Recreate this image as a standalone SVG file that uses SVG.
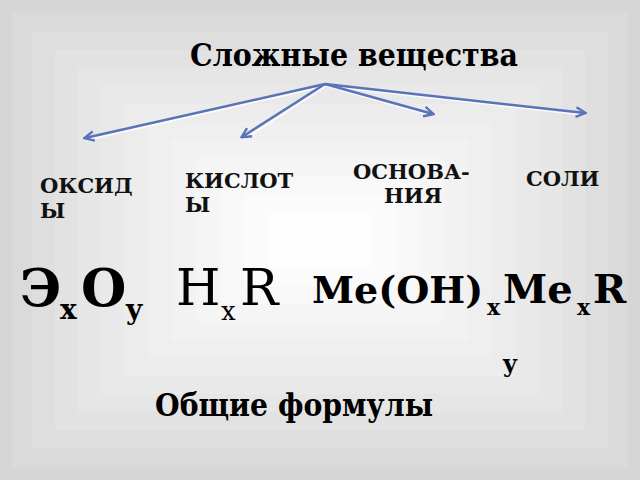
<svg xmlns="http://www.w3.org/2000/svg" width="640" height="480" viewBox="0 0 640 480">
<defs>
<style>
.title{font-family:"DejaVu Serif",serif;font-weight:bold;font-size:31px;fill:#000}
.lab{font-family:"DejaVu Serif",serif;font-weight:bold;font-size:21px;fill:#111}
.fb{font-family:"DejaVu Serif",serif;font-weight:bold;fill:#000}
.fn{font-family:"DejaVu Serif",serif;font-weight:normal;fill:#000}
.conn{stroke:#5a72b8;stroke-width:2.5;fill:none;marker-end:url(#ah)}
.hl{stroke:#ffffff;stroke-width:2;fill:none;opacity:0.8}
</style>
<marker id="ah" viewBox="0 0 10 10" refX="8.5" refY="5" markerWidth="12" markerHeight="12" markerUnits="userSpaceOnUse" orient="auto">
<path d="M1,1 L9,5 L1,9" fill="none" stroke="#5a72b8" stroke-width="2"/>
</marker>
</defs>
<g id="background">
<rect x="0" y="0" width="640" height="480" fill="#d6d6d6"/>
<rect x="12" y="12" width="616" height="456" fill="#dadada"/>
<rect x="32" y="32" width="576" height="416" fill="#dedede"/>
<rect x="55" y="50" width="530" height="380" fill="#e2e2e2"/>
<rect x="78" y="68" width="484" height="344" fill="#e6e6e6"/>
<rect x="100" y="86" width="440" height="308" fill="#e9e9e9"/>
<rect x="124" y="104" width="392" height="272" fill="#ececec"/>
<rect x="148" y="122" width="344" height="236" fill="#efefef"/>
<rect x="172" y="140" width="296" height="200" fill="#f2f2f2"/>
<rect x="196" y="158" width="248" height="164" fill="#f5f5f5"/>
<rect x="220" y="176" width="200" height="128" fill="#f8f8f8"/>
<rect x="244" y="194" width="152" height="92" fill="#fbfbfb"/>
<rect x="268" y="212" width="104" height="56" fill="#fdfdfd"/>
</g>
<g id="connectors">
<line class="hl" x1="326" y1="86" x2="86" y2="140"/>
<line class="hl" x1="326" y1="86" x2="243" y2="140"/>
<line class="hl" x1="327" y1="86" x2="433" y2="116"/>
<line class="hl" x1="327" y1="86" x2="585" y2="115"/>
<line class="conn" x1="325" y1="84" x2="85" y2="138"/>
<line class="conn" x1="325" y1="84" x2="242" y2="137"/>
<line class="conn" x1="325" y1="84" x2="433" y2="114"/>
<line class="conn" x1="325" y1="84" x2="585" y2="113"/>
</g>
<g id="node-title"><text class="title" x="190" y="66" textLength="328" lengthAdjust="spacingAndGlyphs">Сложные вещества</text></g>
<g id="node-oxides"><text class="lab" x="40" y="193">ОКСИД</text><text class="lab" x="40" y="218">Ы</text></g>
<g id="node-acids"><text class="lab" x="185" y="188">КИСЛОТ</text><text class="lab" x="185" y="212">Ы</text></g>
<g id="node-bases"><text class="lab" x="353" y="179">ОСНОВА-</text><text class="lab" x="384" y="203">НИЯ</text></g>
<g id="node-salts"><text class="lab" x="526" y="186">СОЛИ</text></g>
<g id="formula-oxides">
<text class="fb" x="20" y="306" font-size="52">Э</text>
<text class="fb" x="60" y="319" font-size="28">x</text>
<text class="fb" x="81" y="306" font-size="52">O</text>
<text class="fb" x="126" y="319" font-size="28">y</text>
</g>
<g id="formula-acids">
<text class="fn" x="176" y="305" font-size="51">H</text>
<text class="fn" x="221" y="320" font-size="26">x</text>
<text class="fn" x="240" y="305" font-size="51">R</text>
</g>
<g id="formula-bases">
<text class="fb" x="312" y="303" font-size="38">Me(OH)</text>
<text class="fb" x="487" y="315" font-size="22">x</text>
</g>
<g id="formula-salts">
<text class="fb" x="503" y="303" font-size="40">Me</text>
<text class="fb" x="577" y="315" font-size="22">x</text>
<text class="fb" x="593" y="303" font-size="40">R</text>
<text class="fb" x="503" y="372" font-size="24">y</text>
</g>
<g id="node-footer"><text class="title" x="155" y="416" textLength="278" lengthAdjust="spacingAndGlyphs">Общие формулы</text></g>
</svg>
